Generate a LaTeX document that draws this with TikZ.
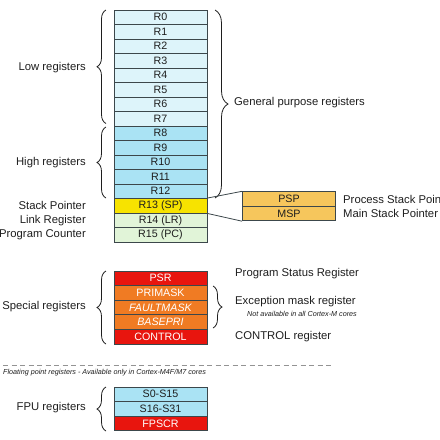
\documentclass[tikz,border=0pt]{standalone}
\usepackage{fontspec}
\setmainfont{Liberation Sans}
\usetikzlibrary{decorations.pathreplacing}
\definecolor{lowc}{HTML}{DDF4FA}
\definecolor{highc}{HTML}{AAE3F4}
\definecolor{spc}{HTML}{F7E300}
\definecolor{grc}{HTML}{E1F4D8}
\definecolor{pspc}{HTML}{F6C65C}
\definecolor{redc}{HTML}{E8150E}
\definecolor{orc}{HTML}{F07B23}
\definecolor{edgec}{HTML}{3C474B}
\definecolor{txtc}{HTML}{1E1E1E}
\tikzset{
  reg/.style={draw=edgec, line width=0.9pt, minimum width=93pt, minimum height=14.5pt,
    inner sep=0pt, font=\fontsize{10.7}{12}\selectfont, text=txtc},
  wreg/.style={reg, text=white},
  lbl/.style={font=\fontsize{11.3}{13}\selectfont, text=txtc, inner sep=0pt},
  tiny/.style={font=\fontsize{7.2}{8.5}\selectfont\itshape, text=txtc, inner sep=0pt},
  brc/.style={decorate, decoration={brace, amplitude=9pt}, line width=0.8pt, draw=txtc},
  rbrc/.style={decorate, decoration={brace, amplitude=13pt}, line width=0.8pt, draw=txtc},
}
\begin{document}
\begin{tikzpicture}[x=1pt,y=-1pt]
\useasboundingbox (0,0) rectangle (440,440);
% main register stack
\node[reg, fill=lowc] (r0) at (160.5,17.25) {R0};
\node[reg, fill=lowc] (r1) at (160.5,31.75) {R1};
\node[reg, fill=lowc] (r2) at (160.5,46.25) {R2};
\node[reg, fill=lowc] (r3) at (160.5,60.75) {R3};
\node[reg, fill=lowc] (r4) at (160.5,75.25) {R4};
\node[reg, fill=lowc] (r5) at (160.5,89.75) {R5};
\node[reg, fill=lowc] (r6) at (160.5,104.25) {R6};
\node[reg, fill=lowc] (r7) at (160.5,118.75) {R7};
\node[reg, fill=highc] (r8) at (160.5,133.25) {R8};
\node[reg, fill=highc] (r9) at (160.5,147.75) {R9};
\node[reg, fill=highc] (r10) at (160.5,162.25) {R10};
\node[reg, fill=highc] (r11) at (160.5,176.75) {R11};
\node[reg, fill=highc] (r12) at (160.5,191.25) {R12};
\node[reg, fill=spc] (r13) at (160.5,205.75) {R13 (SP)};
\node[reg, fill=grc] (r14) at (160.5,220.25) {R14 (LR)};
\node[reg, fill=grc] (r15) at (160.5,234.75) {R15 (PC)};
% braces left
\draw[brc] (106,123.5) -- (106,10);
\node[lbl, anchor=east] (lowl) at (86,68) {Low registers};
\draw[brc] (106,198) -- (106,127);
\node[lbl, anchor=east] (highl) at (86,163) {High registers};
\node[lbl, anchor=east] (spl) at (86,205.75) {Stack Pointer};
\node[lbl, anchor=east] (lrl) at (86,220.25) {Link Register};
\node[lbl, anchor=east] (pcl) at (86,234.75) {Program Counter};
% right brace
\draw[rbrc] (215,10) -- (215,198);
\node[lbl, anchor=west] (gpl) at (234,103) {General purpose registers};
% PSP / MSP
\node[reg, fill=pspc] (psp) at (289,199) {PSP};
\node[reg, fill=pspc] (msp) at (289,213.5) {MSP};
\draw[line width=0.8pt, draw=edgec] (r13.north east) -- (psp.north west);
\draw[line width=0.8pt, draw=edgec] (r13.south east) -- (msp.south west);
\node[lbl, anchor=west] (pspl) at (343,199) {Process Stack Pointer};
\node[lbl, anchor=west] (mspl) at (343,213.5) {Main Stack Pointer};
% special registers
\node[wreg, fill=redc] (psr) at (160.5,278.3) {PSR};
\node[wreg, fill=orc] (pri) at (160.5,292.9) {PRIMASK};
\node[wreg, fill=orc] (flt) at (160.5,307.5) {\itshape FAULTMASK};
\node[wreg, fill=orc] (bas) at (160.5,322.1) {\itshape BASEPRI};
\node[wreg, fill=redc] (ctl) at (160.5,336.7) {CONTROL};
\draw[brc] (106,344) -- (106,271);
\node[lbl, anchor=east] (spcl) at (86,307) {Special registers};
\draw[brc] (213,286) -- (213,328);
\node[lbl, anchor=west] (psrl) at (235,274) {Program Status Register};
\node[lbl, anchor=west] (excl) at (235,302) {Exception mask register};
\node[tiny, anchor=east] (nal) at (357,314) {Not available in all Cortex-M cores};
\node[lbl, anchor=west] (ctll) at (235,337) {CONTROL register};
% dashed separator
\coordinate (dsa) at (3,365);
\coordinate (dsb) at (331,365);
\draw[dash pattern=on 5pt off 3.5pt, line width=0.8pt, draw=gray!85] (dsa) -- (dsb);
\node[tiny, anchor=west] (fpn) at (3,372.5) {Floating point registers - Available only in Cortex-M4F/M7 cores};
% FPU
\node[reg, fill=highc] (s0) at (160.5,394.3) {S0-S15};
\node[reg, fill=highc] (s16) at (160.5,408.9) {S16-S31};
\node[wreg, fill=redc] (fpscr) at (160.5,423.5) {FPSCR};
\draw[brc] (106,431) -- (106,387);
\node[lbl, anchor=east] (fpul) at (86,408) {FPU registers};
\end{tikzpicture}
\end{document}
